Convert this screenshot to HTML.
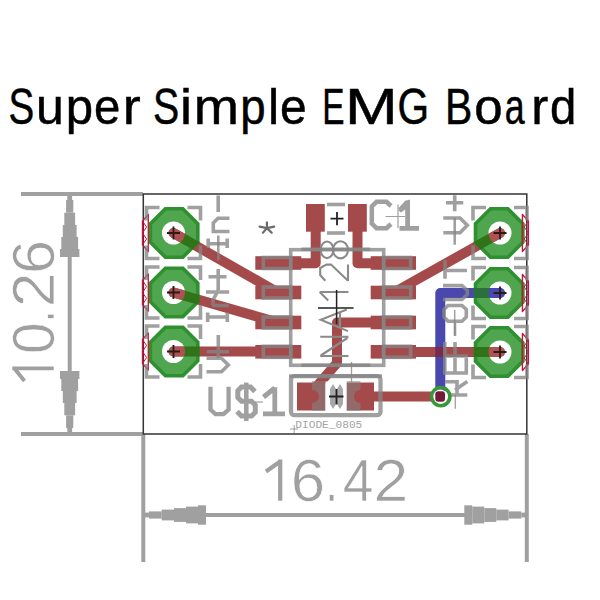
<!DOCTYPE html>
<html><head><meta charset="utf-8">
<style>
html,body{margin:0;padding:0;background:#fff;width:600px;height:600px;overflow:hidden}
svg{position:absolute;left:0;top:0}
</style></head>
<body>
<svg width="600" height="600" viewBox="0 0 600 600">
<defs>
<clipPath id="pc0"><polygon points="165.10,207.00 183.10,207.00 199.60,223.50 199.60,242.50 183.10,259.00 165.10,259.00 148.60,242.50 148.60,223.50"/></clipPath>
<clipPath id="hc0"><circle cx="173.5" cy="233" r="11.5"/></clipPath>
<clipPath id="pc1"><polygon points="165.10,266.50 183.10,266.50 199.60,283.00 199.60,302.00 183.10,318.50 165.10,318.50 148.60,302.00 148.60,283.00"/></clipPath>
<clipPath id="hc1"><circle cx="173.5" cy="292.5" r="11.5"/></clipPath>
<clipPath id="pc2"><polygon points="165.10,325.50 183.10,325.50 199.60,342.00 199.60,361.00 183.10,377.50 165.10,377.50 148.60,361.00 148.60,342.00"/></clipPath>
<clipPath id="hc2"><circle cx="173.5" cy="351.5" r="11.5"/></clipPath>
<clipPath id="pc3"><polygon points="490.20,207.00 508.20,207.00 524.70,223.50 524.70,242.50 508.20,259.00 490.20,259.00 473.70,242.50 473.70,223.50"/></clipPath>
<clipPath id="hc3"><circle cx="500" cy="233" r="11.5"/></clipPath>
<clipPath id="pc4"><polygon points="490.20,267.00 508.20,267.00 524.70,283.50 524.70,302.50 508.20,319.00 490.20,319.00 473.70,302.50 473.70,283.50"/></clipPath>
<clipPath id="hc4"><circle cx="500" cy="293" r="11.5"/></clipPath>
<clipPath id="pc5"><polygon points="490.20,326.00 508.20,326.00 524.70,342.50 524.70,361.50 508.20,378.00 490.20,378.00 473.70,361.50 473.70,342.50"/></clipPath>
<clipPath id="hc5"><circle cx="500" cy="352" r="11.5"/></clipPath>
<clipPath id="viac"><circle cx="440.3" cy="396.5" r="7"/></clipPath>
</defs>
<text transform="translate(8.59,124.2) scale(0.771,1)" font-family="Liberation Sans" font-size="50" fill="#000" stroke="#000" stroke-width="0.5">S</text>
<text transform="translate(35.90,124.2) scale(1.000,1)" font-family="Liberation Sans" font-size="50" fill="#000" stroke="#000" stroke-width="0.5">u</text>
<text transform="translate(65.75,124.2) scale(0.983,1)" font-family="Liberation Sans" font-size="50" fill="#000" stroke="#000" stroke-width="0.5">p</text>
<text transform="translate(94.11,124.2) scale(0.946,1)" font-family="Liberation Sans" font-size="50" fill="#000" stroke="#000" stroke-width="0.5">e</text>
<text transform="translate(122.77,124.2) scale(1.077,1)" font-family="Liberation Sans" font-size="50" fill="#000" stroke="#000" stroke-width="0.5">r</text>
<text transform="translate(152.94,124.2) scale(0.786,1)" font-family="Liberation Sans" font-size="50" fill="#000" stroke="#000" stroke-width="0.5">S</text>
<text transform="translate(180.06,124.2) scale(1.080,1)" font-family="Liberation Sans" font-size="50" fill="#000" stroke="#000" stroke-width="0.5">i</text>
<text transform="translate(193.74,124.2) scale(1.086,1)" font-family="Liberation Sans" font-size="50" fill="#000" stroke="#000" stroke-width="0.5">m</text>
<text transform="translate(240.26,124.2) scale(0.913,1)" font-family="Liberation Sans" font-size="50" fill="#000" stroke="#000" stroke-width="0.5">p</text>
<text transform="translate(268.00,124.2) scale(1.000,1)" font-family="Liberation Sans" font-size="50" fill="#000" stroke="#000" stroke-width="0.5">l</text>
<text transform="translate(280.08,124.2) scale(0.958,1)" font-family="Liberation Sans" font-size="50" fill="#000" stroke="#000" stroke-width="0.5">e</text>
<text transform="translate(322.33,124.2) scale(0.667,1)" font-family="Liberation Sans" font-size="50" fill="#000" stroke="#000" stroke-width="0.5">E</text>
<text transform="translate(344.94,124.2) scale(1.265,1)" font-family="Liberation Sans" font-size="50" fill="#000" stroke="#000" stroke-width="0.5">M</text>
<text transform="translate(397.56,124.2) scale(0.812,1)" font-family="Liberation Sans" font-size="50" fill="#000" stroke="#000" stroke-width="0.5">G</text>
<text transform="translate(444.93,124.2) scale(0.819,1)" font-family="Liberation Sans" font-size="50" fill="#000" stroke="#000" stroke-width="0.5">B</text>
<text transform="translate(474.36,124.2) scale(1.021,1)" font-family="Liberation Sans" font-size="50" fill="#000" stroke="#000" stroke-width="0.5">o</text>
<text transform="translate(504.77,124.2) scale(0.715,1)" font-family="Liberation Sans" font-size="50" fill="#000" stroke="#000" stroke-width="0.5">a</text>
<text transform="translate(531.13,124.2) scale(1.023,1)" font-family="Liberation Sans" font-size="50" fill="#000" stroke="#000" stroke-width="0.5">r</text>
<text transform="translate(550.11,124.2) scale(0.946,1)" font-family="Liberation Sans" font-size="50" fill="#000" stroke="#000" stroke-width="0.5">d</text>
<g stroke="#a0a0a0" stroke-width="4" fill="none">
<line x1="21" y1="194" x2="143" y2="194"/>
<line x1="21" y1="434" x2="143" y2="434"/>
<line x1="69.7" y1="250" x2="69.7" y2="380"/>
<line x1="143.3" y1="434" x2="143.3" y2="562"/>
<line x1="526.8" y1="434" x2="526.8" y2="562"/>
<line x1="200" y1="515" x2="470" y2="515"/>
</g>
<g fill="#a0a0a0">
<rect x="67.3" y="196.0" width="4.8" height="4.0"/><rect x="66.1" y="200.0" width="7.2" height="12.7"/><rect x="64.3" y="212.7" width="10.8" height="12.3"/><rect x="62.8" y="225.0" width="13.8" height="12.0"/><rect x="61.3" y="237.0" width="16.8" height="12.0"/><rect x="60.0" y="249.0" width="19.4" height="8.0"/>
<rect x="67.3" y="428.0" width="4.8" height="4.0"/><rect x="66.1" y="415.3" width="7.2" height="12.7"/><rect x="64.3" y="403.0" width="10.8" height="12.3"/><rect x="62.8" y="391.0" width="13.8" height="12.0"/><rect x="61.3" y="379.0" width="16.8" height="12.0"/><rect x="60.0" y="371.0" width="19.4" height="8.0"/>
<rect x="145.0" y="512.6" width="4.0" height="4.8"/><rect x="149.0" y="511.4" width="12.7" height="7.2"/><rect x="161.7" y="509.6" width="12.3" height="10.8"/><rect x="174.0" y="508.1" width="12.0" height="13.8"/><rect x="186.0" y="506.6" width="12.0" height="16.8"/><rect x="198.0" y="505.3" width="8.0" height="19.4"/>
<rect x="521.3" y="512.6" width="4.0" height="4.8"/><rect x="508.6" y="511.4" width="12.7" height="7.2"/><rect x="496.3" y="509.6" width="12.3" height="10.8"/><rect x="484.3" y="508.1" width="12.0" height="13.8"/><rect x="472.3" y="506.6" width="12.0" height="16.8"/><rect x="464.3" y="505.3" width="8.0" height="19.4"/>
</g>
<text transform="translate(290.7,500.7) scale(1.04,1)" font-family="Liberation Sans" font-size="59.5" fill="#a0a0a0" stroke="#fff" stroke-width="0.7">6</text>
<text transform="translate(325,500.7) scale(0.8,1)" font-family="Liberation Sans" font-size="59.5" fill="#a0a0a0" stroke="#fff" stroke-width="0.7">.</text>
<text transform="translate(342.7,500.7) scale(0.93,1)" font-family="Liberation Sans" font-size="59.5" fill="#a0a0a0" stroke="#fff" stroke-width="0.7">4</text>
<text transform="translate(373.5,500.7) scale(1.05,1)" font-family="Liberation Sans" font-size="59.5" fill="#a0a0a0" stroke="#fff" stroke-width="0.7">2</text>
<path d="M280.2,459.5V500.7M280.2,461.5L266,471.5" stroke="#a0a0a0" stroke-width="4.2" fill="none"/>
<text transform="translate(54.3,274) rotate(-90) scale(1.03,1)" font-family="Liberation Sans" font-size="59.5" fill="#a0a0a0" stroke="#fff" stroke-width="0.7">6</text>
<text transform="translate(54.3,307.3) rotate(-90) scale(1.05,1)" font-family="Liberation Sans" font-size="59.5" fill="#a0a0a0" stroke="#fff" stroke-width="0.7">2</text>
<text transform="translate(54.3,323) rotate(-90) scale(0.8,1)" font-family="Liberation Sans" font-size="59.5" fill="#a0a0a0" stroke="#fff" stroke-width="0.7">.</text>
<text transform="translate(54.3,354) rotate(-90) scale(0.95,1)" font-family="Liberation Sans" font-size="59.5" fill="#a0a0a0" stroke="#fff" stroke-width="0.7">0</text>
<path d="M12.3,368.3H53.7M14.3,368.3L24.5,381" stroke="#a0a0a0" stroke-width="3.8" fill="none"/>
<rect x="143.3" y="194" width="383.5" height="240" fill="none" stroke="#333" stroke-width="1.5"/>
<g stroke="#a54a4a" stroke-width="10" fill="none" stroke-linejoin="round" stroke-linecap="round">
<polyline points="173.5,233 278,292.5"/>
<polyline points="173.5,292.5 278,322.5"/>
<polyline points="173.5,351.5 278,351.5"/>
<polyline points="315.7,225 315.7,263.3 278,263.3"/>
<polyline points="357.5,225 357.5,263.3 393,263.3"/>
<polyline points="393,293 500,233"/>
<polyline points="393,322.5 337,322.5 337,363 311,393"/>
<polyline points="393,352 500,352"/>
<polyline points="361,396.5 440.3,396.5"/>
</g>
<polyline points="500,293 440.3,293 440.3,396.5" stroke="#4848ae" stroke-width="10" fill="none" stroke-linejoin="round" stroke-linecap="round"/>
<rect x="435.3" y="347" width="10" height="10" fill="#7c2a4a"/>
<g fill="#a54a4a">
<rect x="255.3" y="256.2" width="46" height="13.6"/>
<rect x="370.7" y="256.2" width="45.3" height="13.6"/>
<rect x="255.3" y="285.7" width="46" height="13.6"/>
<rect x="370.7" y="285.7" width="45.3" height="13.6"/>
<rect x="255.3" y="315.7" width="46" height="13.6"/>
<rect x="370.7" y="315.7" width="45.3" height="13.6"/>
<rect x="255.3" y="345.0" width="46" height="13.6"/>
<rect x="370.7" y="345.0" width="45.3" height="13.6"/>
<rect x="306" y="204" width="18.8" height="27.7"/>
<rect x="348" y="204" width="18.8" height="27.7"/>
<rect x="297" y="382.5" width="28.5" height="28"/>
<rect x="346.5" y="382.5" width="27.5" height="28"/>
</g>
<polygon points="165.40,208.80 182.80,208.80 197.80,223.80 197.80,242.20 182.80,257.20 165.40,257.20 150.40,242.20 150.40,223.80" fill="#4fa64f" stroke="#2f9030" stroke-width="3.6"/>
<circle cx="173.5" cy="233" r="11.5" fill="#fff"/>
<polygon points="165.40,268.30 182.80,268.30 197.80,283.30 197.80,301.70 182.80,316.70 165.40,316.70 150.40,301.70 150.40,283.30" fill="#4fa64f" stroke="#2f9030" stroke-width="3.6"/>
<circle cx="173.5" cy="292.5" r="11.5" fill="#fff"/>
<polygon points="165.40,327.30 182.80,327.30 197.80,342.30 197.80,360.70 182.80,375.70 165.40,375.70 150.40,360.70 150.40,342.30" fill="#4fa64f" stroke="#2f9030" stroke-width="3.6"/>
<circle cx="173.5" cy="351.5" r="11.5" fill="#fff"/>
<polygon points="490.50,208.80 507.90,208.80 522.90,223.80 522.90,242.20 507.90,257.20 490.50,257.20 475.50,242.20 475.50,223.80" fill="#4fa64f" stroke="#2f9030" stroke-width="3.6"/>
<circle cx="500" cy="233" r="11.5" fill="#fff"/>
<polygon points="490.50,268.80 507.90,268.80 522.90,283.80 522.90,302.20 507.90,317.20 490.50,317.20 475.50,302.20 475.50,283.80" fill="#4fa64f" stroke="#2f9030" stroke-width="3.6"/>
<circle cx="500" cy="293" r="11.5" fill="#fff"/>
<polygon points="490.50,327.80 507.90,327.80 522.90,342.80 522.90,361.20 507.90,376.20 490.50,376.20 475.50,361.20 475.50,342.80" fill="#4fa64f" stroke="#2f9030" stroke-width="3.6"/>
<circle cx="500" cy="352" r="11.5" fill="#fff"/>
<g clip-path="url(#pc0)"><polyline points="173.5,233 278,292.5" stroke="#317318" stroke-width="10" fill="none" stroke-linecap="round"/></g>
<g clip-path="url(#hc0)"><polyline points="173.5,233 278,292.5" stroke="#b05252" stroke-width="10" fill="none" stroke-linecap="round"/></g>
<g clip-path="url(#pc1)"><polyline points="173.5,292.5 278,322.5" stroke="#317318" stroke-width="10" fill="none" stroke-linecap="round"/></g>
<g clip-path="url(#hc1)"><polyline points="173.5,292.5 278,322.5" stroke="#b05252" stroke-width="10" fill="none" stroke-linecap="round"/></g>
<g clip-path="url(#pc2)"><polyline points="173.5,351.5 278,351.5" stroke="#317318" stroke-width="10" fill="none" stroke-linecap="round"/></g>
<g clip-path="url(#hc2)"><polyline points="173.5,351.5 278,351.5" stroke="#b05252" stroke-width="10" fill="none" stroke-linecap="round"/></g>
<g clip-path="url(#pc3)"><polyline points="393,293 500,233" stroke="#317318" stroke-width="10" fill="none" stroke-linecap="round"/></g>
<g clip-path="url(#hc3)"><polyline points="393,293 500,233" stroke="#b05252" stroke-width="10" fill="none" stroke-linecap="round"/></g>
<g clip-path="url(#pc5)"><polyline points="393,352 500,352" stroke="#317318" stroke-width="10" fill="none" stroke-linecap="round"/></g>
<g clip-path="url(#hc5)"><polyline points="393,352 500,352" stroke="#b05252" stroke-width="10" fill="none" stroke-linecap="round"/></g>
<g clip-path="url(#pc4)"><polyline points="500,293 440.3,293" stroke="#2c6f3c" stroke-width="10" fill="none" stroke-linecap="round"/></g>
<g clip-path="url(#hc4)"><polyline points="500,293 440.3,293" stroke="#4848ae" stroke-width="10" fill="none" stroke-linecap="round"/></g>
<path d="M167.0,233H180.0M173.5,226.5V239.5" stroke="#2a1a1a" stroke-width="1.8"/>
<path d="M167.0,292.5H180.0M173.5,286.0V299.0" stroke="#2a1a1a" stroke-width="1.8"/>
<path d="M167.0,351.5H180.0M173.5,345.0V358.0" stroke="#2a1a1a" stroke-width="1.8"/>
<path d="M493.5,233H506.5M500,226.5V239.5" stroke="#2a1a1a" stroke-width="1.8"/>
<path d="M493.5,293H506.5M500,286.5V299.5" stroke="#2a1a1a" stroke-width="1.8"/>
<path d="M493.5,352H506.5M500,345.5V358.5" stroke="#2a1a1a" stroke-width="1.8"/>
<circle cx="440.8" cy="396.6" r="9.1" fill="none" stroke="#35993a" stroke-width="3.6"/>
<g clip-path="url(#viac)"><rect x="430" y="386" width="22" height="22" fill="#fff"/><rect x="435.3" y="391.3" width="9.7" height="10.4" rx="3" fill="#741a36"/></g>
<polygon points="148.3,214.5 142.5,221.0 142.5,245.0 148.3,251.5" fill="none" stroke="#d0103c" stroke-width="1.35" stroke-linejoin="round"/><path d="M142.5,221.0 L146.56,227 L142.5,233 L146.56,239 L142.5,245.0" fill="none" stroke="#d0103c" stroke-width="1.0"/>
<polygon points="148.3,274.0 142.5,280.5 142.5,304.5 148.3,311.0" fill="none" stroke="#d0103c" stroke-width="1.35" stroke-linejoin="round"/><path d="M142.5,280.5 L146.56,286.5 L142.5,292.5 L146.56,298.5 L142.5,304.5" fill="none" stroke="#d0103c" stroke-width="1.0"/>
<polygon points="148.3,333.0 142.5,339.5 142.5,363.5 148.3,370.0" fill="none" stroke="#d0103c" stroke-width="1.35" stroke-linejoin="round"/><path d="M142.5,339.5 L146.56,345.5 L142.5,351.5 L146.56,357.5 L142.5,363.5" fill="none" stroke="#d0103c" stroke-width="1.0"/>
<polygon points="522.4,214.5 528.4,221.0 528.4,245.0 522.4,251.5" fill="none" stroke="#d0103c" stroke-width="1.35" stroke-linejoin="round"/><path d="M528.4,221.0 L524.1999999999999,227 L528.4,233 L524.1999999999999,239 L528.4,245.0" fill="none" stroke="#d0103c" stroke-width="1.0"/>
<polygon points="522.4,274.5 528.4,281.0 528.4,305.0 522.4,311.5" fill="none" stroke="#d0103c" stroke-width="1.35" stroke-linejoin="round"/><path d="M528.4,281.0 L524.1999999999999,287 L528.4,293 L524.1999999999999,299 L528.4,305.0" fill="none" stroke="#d0103c" stroke-width="1.0"/>
<polygon points="522.4,333.5 528.4,340.0 528.4,364.0 522.4,370.5" fill="none" stroke="#d0103c" stroke-width="1.35" stroke-linejoin="round"/><path d="M528.4,340.0 L524.1999999999999,346 L528.4,352 L524.1999999999999,358 L528.4,364.0" fill="none" stroke="#d0103c" stroke-width="1.0"/>
<g stroke="rgb(133,133,133)" stroke-opacity="0.78" stroke-width="3.6" fill="none">
<rect x="290.7" y="249.7" width="93" height="115.6"/>
<rect x="263.3" y="257.5" width="27.4" height="11"/>
<rect x="383.5" y="257.5" width="27.2" height="11"/>
<rect x="263.3" y="287.0" width="27.4" height="11"/>
<rect x="383.5" y="287.0" width="27.2" height="11"/>
<rect x="263.3" y="317.0" width="27.4" height="11"/>
<rect x="383.5" y="317.0" width="27.2" height="11"/>
<rect x="263.3" y="346.3" width="27.4" height="11"/>
<rect x="383.5" y="346.3" width="27.2" height="11"/>
<line x1="327" y1="204.5" x2="345" y2="204.5"/>
<line x1="327" y1="233" x2="345" y2="233"/>
<rect x="291" y="376.2" width="89.5" height="39" rx="3.5" stroke-width="4.3"/>
<path d="M146.5,220.5V207.5H159.5 M187.5,207.5H200.5V220.5 M200.5,245.5V258.5H187.5 M159.5,258.5H146.5V245.5"/>
<path d="M146.5,280.0V267.0H159.5 M187.5,267.0H200.5V280.0 M200.5,305.0V318.0H187.5 M159.5,318.0H146.5V305.0"/>
<path d="M146.5,339.0V326.0H159.5 M187.5,326.0H200.5V339.0 M200.5,364.0V377.0H187.5 M159.5,377.0H146.5V364.0"/>
<path d="M473,220.5V207.5H486 M514,207.5H527V220.5 M527,245.5V258.5H514 M486,258.5H473V245.5"/>
<path d="M473,280.5V267.5H486 M514,267.5H527V280.5 M527,305.5V318.5H514 M486,318.5H473V305.5"/>
<path d="M473,339.5V326.5H486 M514,326.5H527V339.5 M527,364.5V377.5H514 M486,377.5H473V364.5"/>
</g>
<path d="M218.2,195.5V212" stroke="rgb(133,133,133)" stroke-opacity="0.78" stroke-width="3.6" fill="none" stroke-linecap="butt" stroke-linejoin="miter"/>
<path d="M229.5,218.2H218L213.3,223V231.5H229.5" stroke="rgb(133,133,133)" stroke-opacity="0.78" stroke-width="3.6" fill="none" stroke-linecap="butt" stroke-linejoin="miter"/>
<path d="M208,243.7H227M208.2,238.5V248M227.2,238.5V248" stroke="rgb(133,133,133)" stroke-opacity="0.78" stroke-width="3.6" fill="none" stroke-linecap="butt" stroke-linejoin="miter"/>
<path d="M218.3,235.5V260.5" stroke="rgb(133,133,133)" stroke-opacity="0.78" stroke-width="2.6" fill="none" stroke-linecap="butt" stroke-linejoin="miter"/>
<path d="M208.5,276.7H226.5M218.2,269V290" stroke="rgb(133,133,133)" stroke-opacity="0.78" stroke-width="3.6" fill="none" stroke-linecap="butt" stroke-linejoin="miter"/>
<path d="M206,292H229.2M218.5,290L213,300V305.5M212.3,305.5H228.8" stroke="rgb(133,133,133)" stroke-opacity="0.78" stroke-width="3.6" fill="none" stroke-linecap="butt" stroke-linejoin="miter"/>
<path d="M207,317H228M207.7,312.4V322M227.3,312.4V322" stroke="rgb(133,133,133)" stroke-opacity="0.78" stroke-width="3.6" fill="none" stroke-linecap="butt" stroke-linejoin="miter"/>
<path d="M218.3,335V358M206.7,351.7H229" stroke="rgb(133,133,133)" stroke-opacity="0.78" stroke-width="3.6" fill="none" stroke-linecap="butt" stroke-linejoin="miter"/>
<path d="M206.5,358.3H221.5L228.3,365L221.5,371.7H206.5" stroke="rgb(133,133,133)" stroke-opacity="0.78" stroke-width="3.6" fill="none" stroke-linecap="butt" stroke-linejoin="miter"/>
<path d="M446,202.7H463.3M454.7,195.3V211.3" stroke="rgb(133,133,133)" stroke-opacity="0.78" stroke-width="3.6" fill="none" stroke-linecap="butt" stroke-linejoin="miter"/>
<path d="M443.3,218H460L467.3,225.3L460,232.7H443.3" stroke="rgb(133,133,133)" stroke-opacity="0.78" stroke-width="3.6" fill="none" stroke-linecap="butt" stroke-linejoin="miter"/>
<path d="M454.7,218V244.7" stroke="rgb(133,133,133)" stroke-opacity="0.78" stroke-width="2.6" fill="none" stroke-linecap="butt" stroke-linejoin="miter"/>
<path d="M445,260V278.7M445,270.5H467" stroke="rgb(133,133,133)" stroke-opacity="0.78" stroke-width="3.6" fill="none" stroke-linecap="butt" stroke-linejoin="miter"/>
<path d="M443,285.6H462L467.3,290.5V294.5L462,299.5H443" stroke="rgb(133,133,133)" stroke-opacity="0.78" stroke-width="3.6" fill="none" stroke-linecap="butt" stroke-linejoin="miter"/>
<path d="M448,305.5H462L466.3,309.5V317L462,321.2H448L444,317V309.5Z" stroke="rgb(133,133,133)" stroke-opacity="0.78" stroke-width="3.6" fill="none" stroke-linecap="butt" stroke-linejoin="miter"/>
<path d="M454.7,310V335.5" stroke="rgb(133,133,133)" stroke-opacity="0.78" stroke-width="1.5" fill="none" stroke-linecap="butt" stroke-linejoin="miter"/>
<path d="M455,323V336" stroke="rgb(133,133,133)" stroke-opacity="0.78" stroke-width="2.6" fill="none" stroke-linecap="butt" stroke-linejoin="miter"/>
<path d="M443,356H468M444.8,342V356M455,342V356" stroke="rgb(133,133,133)" stroke-opacity="0.78" stroke-width="3.6" fill="none" stroke-linecap="butt" stroke-linejoin="miter"/>
<path d="M443,373H468M444.8,358V373M455,358V373M466.3,358V373" stroke="rgb(133,133,133)" stroke-opacity="0.78" stroke-width="3.6" fill="none" stroke-linecap="butt" stroke-linejoin="miter"/>
<path d="M445.3,381.7H457V395M451,395H467.3M455,390L467.3,381.5" stroke="rgb(133,133,133)" stroke-opacity="0.78" stroke-width="3.6" fill="none" stroke-linecap="butt" stroke-linejoin="miter"/>
<path d="M455.3,395V408.7" stroke="rgb(133,133,133)" stroke-opacity="0.78" stroke-width="1.3" fill="none" stroke-linecap="butt" stroke-linejoin="miter"/>
<path d="M391,206L386.5,201.8H376.5L371.8,206.5V223.5L376.5,228.2H386.5L391,224" stroke="#a0a0a0" stroke-opacity="1" stroke-width="4.5" fill="none" stroke-linecap="butt" stroke-linejoin="miter"/>
<path d="M407.6,201V228.3M407.6,202L400,210M399.5,228.3H419" stroke="#a0a0a0" stroke-opacity="1" stroke-width="4.8" fill="none" stroke-linecap="butt" stroke-linejoin="miter"/>
<polygon points="405,201 410,199.5 410,206 401,212.5 398.5,210.5" fill="#a0a0a0"/>
<path d="M385.5,216.5H405M398,204.5V228" stroke="rgb(133,133,133)" stroke-opacity="0.78" stroke-width="1.2" fill="none" stroke-linecap="butt" stroke-linejoin="miter"/>
<path d="M210.5,386.7V409.5L215.5,414.2H223.5L228.6,409.5V386.7" stroke="#a0a0a0" stroke-opacity="1" stroke-width="4.3" fill="none" stroke-linecap="butt" stroke-linejoin="miter"/>
<path d="M255,391.5L250.5,387H241.5L237.8,390.7V397.5L241.5,401.3H251.5L255.3,405V412.3L251.5,416H241.5L237,411.5" stroke="#a0a0a0" stroke-opacity="1" stroke-width="5" fill="none" stroke-linecap="butt" stroke-linejoin="miter"/>
<path d="M246.3,382.6V421" stroke="#a0a0a0" stroke-opacity="1" stroke-width="4.5" fill="none" stroke-linecap="butt" stroke-linejoin="miter"/>
<path d="M255,402H263" stroke="rgb(133,133,133)" stroke-opacity="0.78" stroke-width="1.2" fill="none" stroke-linecap="butt" stroke-linejoin="miter"/>
<path d="M274.8,387.2V413.8M274.8,388L263.5,397M263,413.8H285" stroke="#a0a0a0" stroke-opacity="1" stroke-width="4.8" fill="none" stroke-linecap="butt" stroke-linejoin="miter"/>
<path d="M266.9,228.1L266.9,222.3M266.9,228.1L259.6,226.6M266.9,228.1L274.2,226.6M266.9,228.1L262.9,232.7M266.9,228.1L271.7,232.7" stroke="#6a6a6a" stroke-opacity="1" stroke-width="2.2" fill="none" stroke-linecap="round" stroke-linejoin="miter"/>
<path d="M301.5,365.2H370.3" stroke="rgb(133,133,133)" stroke-opacity="0.78" stroke-width="3.6" fill="none" stroke-linecap="butt" stroke-linejoin="miter"/>
<path d="M320.2,336.8H348.5M320.2,356H348.5M320.8,355.5L347.4,338" stroke="#8a8a8a" stroke-opacity="1" stroke-width="2.1" fill="none" stroke-linecap="butt" stroke-linejoin="miter"/>
<path d="M346.8,309.6L320.8,319.8L348,331.1M340,312V328" stroke="#8a8a8a" stroke-opacity="1" stroke-width="2.1" fill="none" stroke-linecap="butt" stroke-linejoin="miter"/>
<path d="M319.7,292H348.5M319.7,292L328.2,300.5" stroke="#8a8a8a" stroke-opacity="1" stroke-width="2.1" fill="none" stroke-linecap="butt" stroke-linejoin="miter"/>
<path d="M325.3,280.7L320.2,275V268L326.5,264.6H331L348,280.7M348,264.5V281" stroke="#8a8a8a" stroke-opacity="1" stroke-width="2.1" fill="none" stroke-linecap="butt" stroke-linejoin="miter"/>
<ellipse cx="327" cy="249.8" rx="6.3" ry="8.3" fill="none" stroke="#8a8a8a" stroke-width="2.1"/>
<ellipse cx="340.5" cy="249.8" rx="7.5" ry="8.6" fill="none" stroke="#8a8a8a" stroke-width="2.1"/>
<path d="M301.5,249.2H370.3" stroke="rgb(133,133,133)" stroke-opacity="0.78" stroke-width="3.6" fill="none" stroke-linecap="butt" stroke-linejoin="miter"/>
<path d="M318,307.9H353.6M336.6,290V324.3" stroke="#222" stroke-opacity="1" stroke-width="1.5" fill="none" stroke-linecap="butt" stroke-linejoin="miter"/>
<path d="M330.5,218.6H343.5M337,212V225.2" stroke="#222" stroke-opacity="1" stroke-width="1.8" fill="none" stroke-linecap="butt" stroke-linejoin="miter"/>
<rect x="312" y="381" width="13" height="30" fill="rgb(133,133,133)" fill-opacity="0.55"/>
<rect x="346.5" y="381" width="14" height="30" fill="rgb(133,133,133)" fill-opacity="0.55"/>
<circle cx="312.3" cy="396.3" r="6.6" fill="#a54a4a"/>
<circle cx="360.5" cy="396.3" r="6.6" fill="#a54a4a"/>
<rect x="325.5" y="381.5" width="21" height="29" fill="#fff"/>
<polygon points="330,389 333,384 336,389 336,404 333,409 330,404" fill="#a8a8a8"/>
<polygon points="337,389 340,384 343,389 343,404 340,409 337,404" fill="#a8a8a8"/>
<path d="M329,396.5H343.5M336.5,389V404.5" stroke="#222" stroke-opacity="1" stroke-width="1.8" fill="none" stroke-linecap="butt" stroke-linejoin="miter"/>
<path d="M289,376H382" stroke="rgb(133,133,133)" stroke-opacity="0.78" stroke-width="3.6" fill="none" stroke-linecap="butt" stroke-linejoin="miter"/>
<path d="M351.5,362V382" stroke="rgb(133,133,133)" stroke-opacity="0.78" stroke-width="1.3" fill="none" stroke-linecap="butt" stroke-linejoin="miter"/>
<text x="295.3" y="428.4" font-family="Liberation Mono" font-size="11" fill="#a4a4a4" textLength="67" lengthAdjust="spacingAndGlyphs">DIODE_0805</text>
<path d="M290,429H298M294.2,425V433" stroke="rgb(133,133,133)" stroke-opacity="0.78" stroke-width="1" fill="none" stroke-linecap="butt" stroke-linejoin="miter"/>
</svg></body></html>
